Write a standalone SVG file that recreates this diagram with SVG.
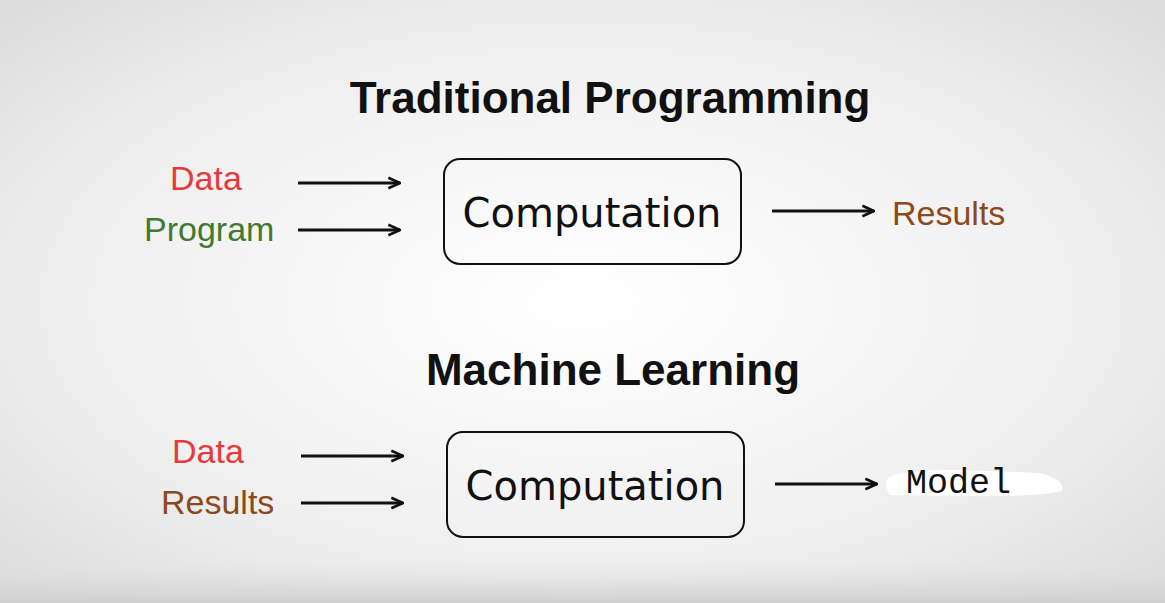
<svg xmlns="http://www.w3.org/2000/svg" width="1165" height="603" viewBox="0 0 1165 603">
<defs>
<radialGradient id="bg" cx="50%" cy="50%" r="70%">
<stop offset="0" stop-color="#ffffff"/><stop offset="0.6" stop-color="#f0f0f0"/><stop offset="1" stop-color="#dcdcdc"/>
</radialGradient>
<linearGradient id="bot" x1="0" y1="0" x2="0" y2="1"><stop offset="0" stop-color="#e4e4e4" stop-opacity="0"/><stop offset="1" stop-color="#cfcfcf"/></linearGradient>
<marker id="ah" viewBox="0 0 12 12" refX="11" refY="6" markerWidth="14" markerHeight="14" markerUnits="userSpaceOnUse" orient="auto">
<path d="M1,1.5 L11,6 L1,10.5" fill="none" stroke="#111" stroke-width="2.2"/>
</marker>
<style>
.t{font-family:"Liberation Sans",Arial,sans-serif;font-weight:bold;font-size:44px;fill:#111;text-anchor:middle}
.l{font-family:"Liberation Sans",Arial,sans-serif;font-size:34px}
.c{font-family:"DejaVu Sans",sans-serif;font-size:40px;fill:#111;text-anchor:middle}
.box{fill:none;stroke:#111;stroke-width:2}
.a{stroke:#111;stroke-width:2.8;marker-end:url(#ah)}
</style>
</defs>
<rect width="1165" height="603" fill="url(#bg)"/>
<rect y="560" width="1165" height="43" fill="url(#bot)"/>
<text class="t" x="610" y="113">Traditional Programming</text>
<text class="t" x="613" y="385">Machine Learning</text>
<g id="tp-inputs">
<text class="l" x="170" y="190" fill="#e8383a">Data</text>
<text class="l" x="144" y="241" fill="#3f7a2f">Program</text>
</g>
<g id="tp-box"><rect class="box" x="444" y="159" width="297" height="105" rx="16"/><text class="c" x="592" y="227">Computation</text></g>
<g id="tp-out"><text class="l" x="892" y="225" fill="#8b4a1c">Results</text></g>
<g id="ml-inputs">
<text class="l" x="172" y="463" fill="#e8383a">Data</text>
<text class="l" x="161" y="514" fill="#8b4a1c">Results</text>
</g>
<g id="ml-box"><rect class="box" x="447" y="432" width="297" height="105" rx="16"/><text class="c" x="595" y="500">Computation</text></g>
<g id="ml-out">
<path d="M888,478 Q900,469 960,470 L1040,473 Q1066,480 1062,491 Q1040,497 960,496 L890,495 Q884,486 888,478 Z" fill="#ffffff"/>
<text x="906" y="493" font-family="Liberation Mono,Courier New,monospace" font-size="35" fill="#111">Model</text>
</g>
<g id="connectors">
<line class="a" x1="298" y1="183" x2="400" y2="183"/>
<line class="a" x1="298" y1="230" x2="400" y2="230"/>
<line class="a" x1="772" y1="211" x2="874" y2="211"/>
<line class="a" x1="301" y1="456" x2="403" y2="456"/>
<line class="a" x1="301" y1="503" x2="403" y2="503"/>
<line class="a" x1="775" y1="484" x2="877" y2="484"/>
</g>
</svg>
